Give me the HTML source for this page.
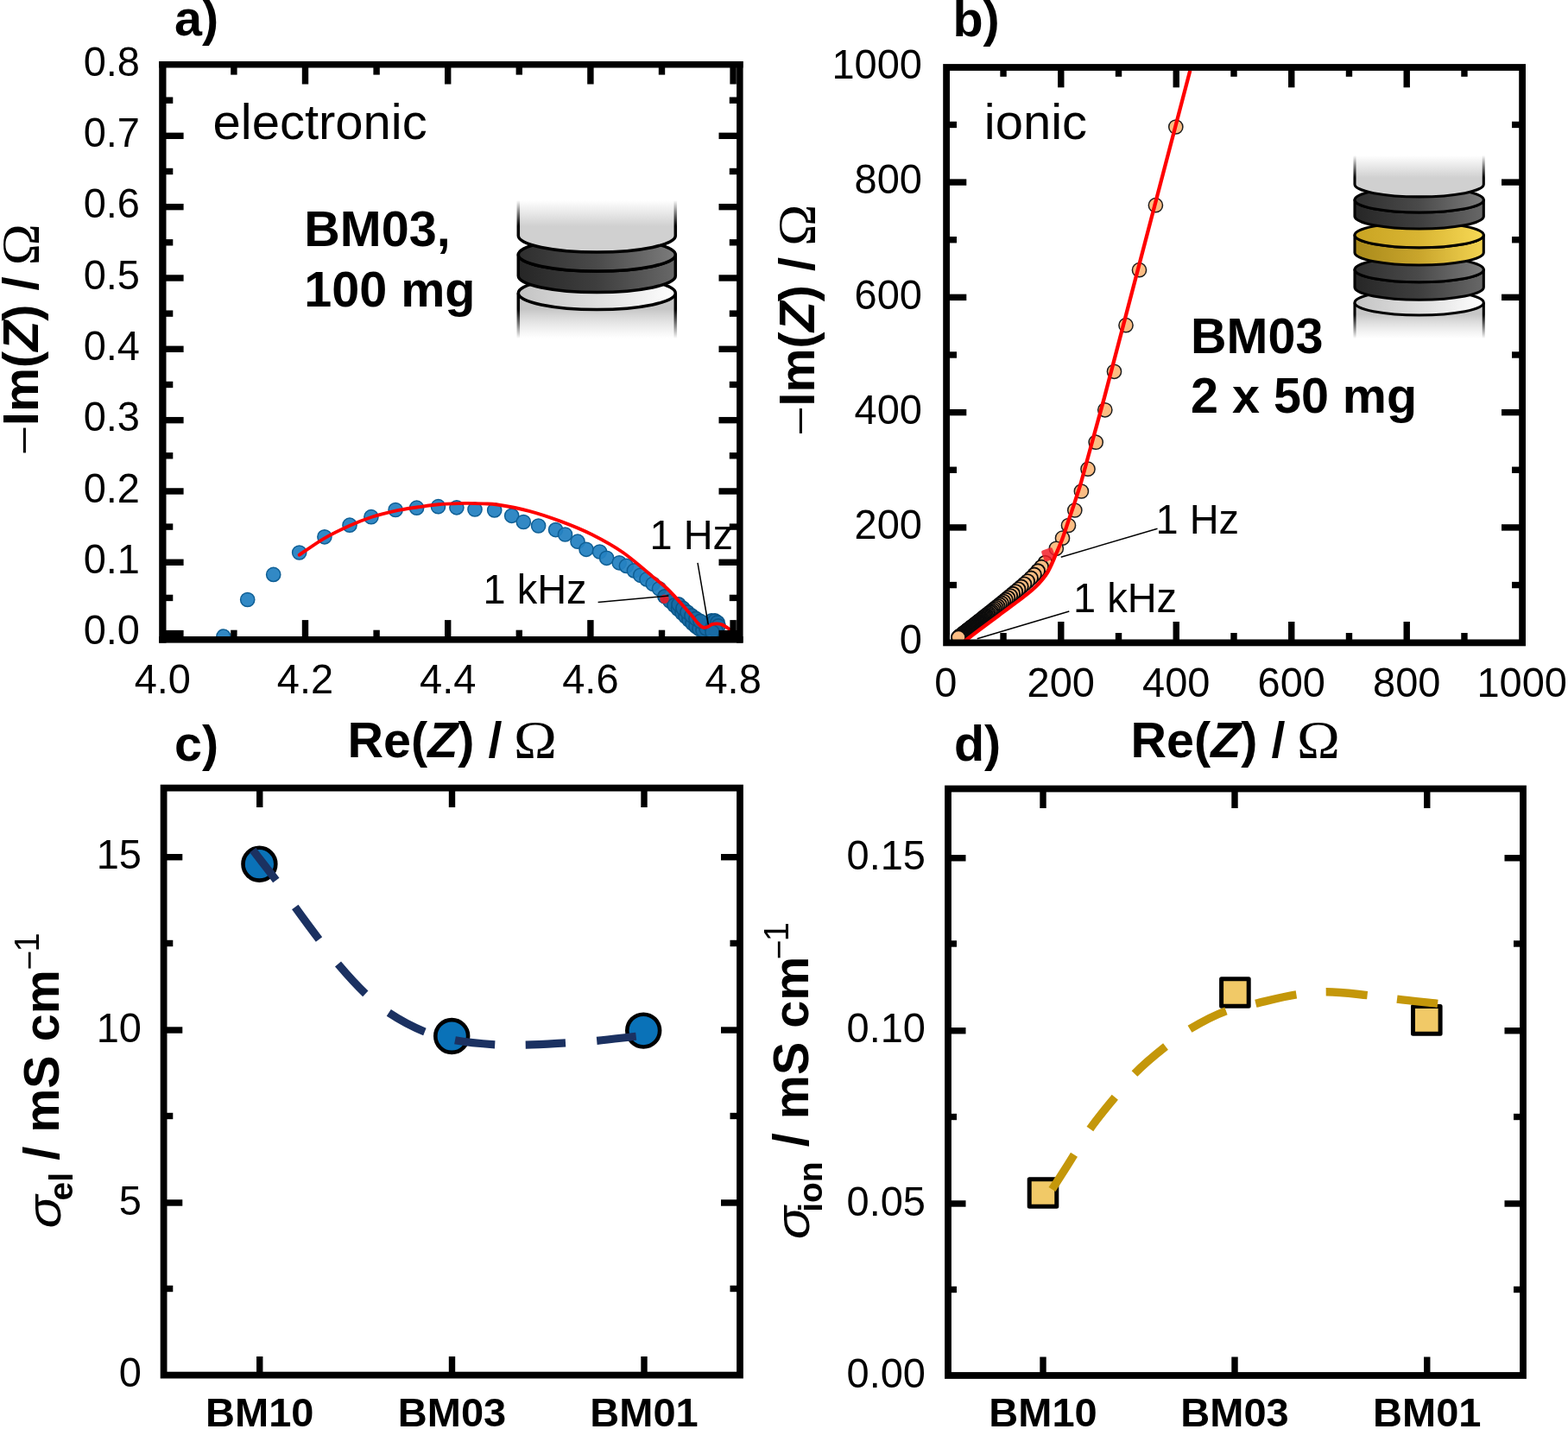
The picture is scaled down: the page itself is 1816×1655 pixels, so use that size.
<!DOCTYPE html>
<html lang="en">
<head>
<meta charset="utf-8">
<title>Impedance spectra and conductivities of BM10, BM03 and BM01</title>
<style>
html,body{margin:0;padding:0;background:#fff;}
body{width:1816px;height:1655px;overflow:hidden;}
svg{display:block;}
text{fill:#000;}
</style>
</head>
<body>
<svg width="1816" height="1655" viewBox="0 0 1816 1655" role="img" aria-label="Nyquist plots and conductivities">
<rect x="0" y="0" width="1816" height="1655" fill="#ffffff"/>
<g id="panel-a">
<defs><clipPath id="clipa"><rect x="188" y="75" width="668" height="663"/></clipPath></defs>
<g clip-path="url(#clipa)">
<g fill="#2582c1" fill-opacity="0.94" stroke="#0f5f95" stroke-width="1.5">
<circle cx="258.9" cy="737.2" r="8.1"/>
<circle cx="286.7" cy="694.5" r="8.1"/>
<circle cx="316.7" cy="665.4" r="8.1"/>
<circle cx="346.7" cy="640.0" r="8.1"/>
<circle cx="375.9" cy="621.8" r="8.1"/>
<circle cx="405.0" cy="608.2" r="8.1"/>
<circle cx="429.9" cy="598.7" r="8.1"/>
<circle cx="458.1" cy="590.5" r="8.1"/>
<circle cx="482.6" cy="588.2" r="8.1"/>
<circle cx="507.5" cy="586.7" r="8.1"/>
<circle cx="528.9" cy="587.8" r="8.1"/>
<circle cx="550.0" cy="590.0" r="8.1"/>
<circle cx="572.7" cy="590.9" r="8.1"/>
<circle cx="592.7" cy="597.3" r="8.1"/>
<circle cx="606.3" cy="604.5" r="8.1"/>
<circle cx="623.6" cy="609.0" r="8.1"/>
<circle cx="643.6" cy="613.6" r="8.1"/>
<circle cx="654.5" cy="619.0" r="8.1"/>
<circle cx="669.0" cy="627.2" r="8.1"/>
<circle cx="679.0" cy="636.3" r="8.1"/>
<circle cx="694.5" cy="639.0" r="8.1"/>
<circle cx="702.6" cy="646.3" r="8.1"/>
<circle cx="717.2" cy="651.8" r="8.1"/>
<circle cx="725.4" cy="655.4" r="8.1"/>
<circle cx="734.4" cy="660.9" r="8.1"/>
<circle cx="741.7" cy="666.3" r="8.1"/>
<circle cx="749.0" cy="670.9" r="8.1"/>
<circle cx="756.2" cy="676.3" r="8.1"/>
<circle cx="763.5" cy="681.8" r="8.1"/>
</g>
<g fill="#186ba6" fill-opacity="0.94" stroke="#0b5688" stroke-width="1.6">
<circle cx="769.9" cy="690.8" r="8.1"/>
<circle cx="776.2" cy="696.3" r="8.1"/>
<circle cx="781.0" cy="701.0" r="8.1"/>
<circle cx="785.5" cy="705.5" r="8.1"/>
<circle cx="790.0" cy="710.0" r="8.1"/>
<circle cx="794.0" cy="714.0" r="8.1"/>
<circle cx="798.0" cy="718.0" r="8.1"/>
<circle cx="802.0" cy="722.0" r="8.1"/>
<circle cx="806.0" cy="725.5" r="8.1"/>
<circle cx="810.0" cy="728.5" r="8.1"/>
<circle cx="814.0" cy="730.0" r="8.1"/>
<circle cx="818.0" cy="728.0" r="8.1"/>
<circle cx="821.0" cy="723.0" r="8.1"/>
<circle cx="824.0" cy="719.0" r="8.1"/>
<circle cx="828.0" cy="719.0" r="8.1"/>
<circle cx="831.0" cy="721.0" r="8.1"/>
<circle cx="832.0" cy="725.0" r="8.1"/>
<circle cx="829.0" cy="730.0" r="8.1"/>
<circle cx="825.0" cy="732.0" r="8.1"/>
<circle cx="786.0" cy="700.0" r="8.1"/>
<circle cx="791.0" cy="704.5" r="8.1"/>
<circle cx="796.0" cy="709.0" r="8.1"/>
<circle cx="801.0" cy="713.0" r="8.1"/>
<circle cx="806.0" cy="716.5" r="8.1"/>
<circle cx="811.0" cy="719.5" r="8.1"/>
</g>
<circle cx="769.5" cy="693.8" r="5.2" fill="#ee1c25" fill-opacity="0.9"/>
<path d="M346.7 642.7 C351.5 639.5,365.8 629.2,375.4 623.6 C385.0 618.0,395.4 613.1,404.5 609.0 C413.6 604.9,421.2 601.9,430.0 599.0 C438.8 596.1,447.9 593.8,457.0 591.8 C466.1 589.8,475.3 588.6,484.4 587.3 C493.5 586.0,502.6 584.6,511.7 583.9 C520.8 583.2,531.0 583.0,539.0 582.9 C547.0 582.8,553.8 583.1,560.0 583.4 C566.2 583.7,567.5 583.1,576.3 584.5 C585.1 585.9,600.6 588.6,612.7 591.8 C624.8 595.0,636.9 599.1,649.0 603.6 C661.1 608.1,673.3 612.9,685.4 619.0 C697.5 625.1,709.6 631.6,721.7 640.0 C733.8 648.4,749.5 662.5,758.0 669.5 C766.5 676.5,768.0 677.2,773.0 682.0 C778.0 686.8,783.7 693.2,788.2 698.2 C792.8 703.2,796.9 708.1,800.3 712.1 C803.7 716.1,806.6 720.0,808.8 722.4 C811.0 724.8,812.0 725.7,813.6 726.4 C815.2 727.1,816.7 726.9,818.5 726.4 C820.3 725.9,822.5 723.9,824.5 723.2 C826.5 722.5,828.6 722.3,830.6 722.4 C832.6 722.5,834.3 722.6,836.6 723.6 C838.9 724.6,843.2 727.7,844.5 728.5" fill="none" stroke="#ff0000" stroke-width="3.9" stroke-linecap="round" stroke-linejoin="round"/>
</g>
<line x1="692.60" y1="697.60" x2="774.40" y2="690.00" stroke="#000" stroke-width="1.5" />
<line x1="808.00" y1="651.80" x2="820.30" y2="723.50" stroke="#000" stroke-width="1.5" />
<text transform="translate(559.50,699.00) scale(1,1.035)" font-size="47" text-anchor="start" font-weight="normal" font-style="normal" font-family='"Liberation Sans", Arial, Helvetica, sans-serif' >1 kHz</text>
<text transform="translate(752.50,636.40) scale(1,1.035)" font-size="47" text-anchor="start" font-weight="normal" font-style="normal" font-family='"Liberation Sans", Arial, Helvetica, sans-serif' >1 Hz</text>
<rect x="184.20" y="71.00" width="8.30" height="673.60" fill="#000" />
<rect x="853.10" y="71.00" width="7.50" height="673.60" fill="#000" />
<rect x="184.20" y="71.00" width="676.40" height="7.50" fill="#000" />
<rect x="184.20" y="737.00" width="676.40" height="7.60" fill="#000" />
<rect x="189.00" y="729.90" width="23.60" height="7.40" fill="#000" />
<rect x="189.00" y="647.57" width="23.60" height="7.40" fill="#000" />
<rect x="189.00" y="565.25" width="23.60" height="7.40" fill="#000" />
<rect x="189.00" y="482.93" width="23.60" height="7.40" fill="#000" />
<rect x="189.00" y="400.60" width="23.60" height="7.40" fill="#000" />
<rect x="189.00" y="318.28" width="23.60" height="7.40" fill="#000" />
<rect x="189.00" y="235.95" width="23.60" height="7.40" fill="#000" />
<rect x="189.00" y="153.63" width="23.60" height="7.40" fill="#000" />
<rect x="189.00" y="688.74" width="11.30" height="7.40" fill="#000" />
<rect x="189.00" y="606.41" width="11.30" height="7.40" fill="#000" />
<rect x="189.00" y="524.09" width="11.30" height="7.40" fill="#000" />
<rect x="189.00" y="441.76" width="11.30" height="7.40" fill="#000" />
<rect x="189.00" y="359.44" width="11.30" height="7.40" fill="#000" />
<rect x="189.00" y="277.11" width="11.30" height="7.40" fill="#000" />
<rect x="189.00" y="194.79" width="11.30" height="7.40" fill="#000" />
<rect x="189.00" y="112.46" width="11.30" height="7.40" fill="#000" />
<rect x="832.50" y="729.90" width="23.50" height="7.40" fill="#000" />
<rect x="832.50" y="647.57" width="23.50" height="7.40" fill="#000" />
<rect x="832.50" y="565.25" width="23.50" height="7.40" fill="#000" />
<rect x="832.50" y="482.93" width="23.50" height="7.40" fill="#000" />
<rect x="832.50" y="400.60" width="23.50" height="7.40" fill="#000" />
<rect x="832.50" y="318.28" width="23.50" height="7.40" fill="#000" />
<rect x="832.50" y="235.95" width="23.50" height="7.40" fill="#000" />
<rect x="832.50" y="153.63" width="23.50" height="7.40" fill="#000" />
<rect x="844.80" y="688.74" width="11.20" height="7.40" fill="#000" />
<rect x="844.80" y="606.41" width="11.20" height="7.40" fill="#000" />
<rect x="844.80" y="524.09" width="11.20" height="7.40" fill="#000" />
<rect x="844.80" y="441.76" width="11.20" height="7.40" fill="#000" />
<rect x="844.80" y="359.44" width="11.20" height="7.40" fill="#000" />
<rect x="844.80" y="277.11" width="11.20" height="7.40" fill="#000" />
<rect x="844.80" y="194.79" width="11.20" height="7.40" fill="#000" />
<rect x="844.80" y="112.46" width="11.20" height="7.40" fill="#000" />
<rect x="349.80" y="75.00" width="7.40" height="22.50" fill="#000" />
<rect x="515.00" y="75.00" width="7.40" height="22.50" fill="#000" />
<rect x="680.20" y="75.00" width="7.40" height="22.50" fill="#000" />
<rect x="845.40" y="75.00" width="7.40" height="22.50" fill="#000" />
<rect x="267.20" y="75.00" width="7.40" height="11.60" fill="#000" />
<rect x="432.40" y="75.00" width="7.40" height="11.60" fill="#000" />
<rect x="597.60" y="75.00" width="7.40" height="11.60" fill="#000" />
<rect x="762.80" y="75.00" width="7.40" height="11.60" fill="#000" />
<rect x="349.80" y="718.10" width="7.40" height="22.90" fill="#000" />
<rect x="515.00" y="718.10" width="7.40" height="22.90" fill="#000" />
<rect x="680.20" y="718.10" width="7.40" height="22.90" fill="#000" />
<rect x="845.40" y="718.10" width="7.40" height="22.90" fill="#000" />
<rect x="267.20" y="729.70" width="7.40" height="11.30" fill="#000" />
<rect x="432.40" y="729.70" width="7.40" height="11.30" fill="#000" />
<rect x="597.60" y="729.70" width="7.40" height="11.30" fill="#000" />
<rect x="762.80" y="729.70" width="7.40" height="11.30" fill="#000" />
<text transform="translate(162.00,746.30) scale(1,1.035)" font-size="47" text-anchor="end" font-weight="normal" font-style="normal" font-family='"Liberation Sans", Arial, Helvetica, sans-serif' >0.0</text>
<text transform="translate(162.00,663.98) scale(1,1.035)" font-size="47" text-anchor="end" font-weight="normal" font-style="normal" font-family='"Liberation Sans", Arial, Helvetica, sans-serif' >0.1</text>
<text transform="translate(162.00,581.65) scale(1,1.035)" font-size="47" text-anchor="end" font-weight="normal" font-style="normal" font-family='"Liberation Sans", Arial, Helvetica, sans-serif' >0.2</text>
<text transform="translate(162.00,499.32) scale(1,1.035)" font-size="47" text-anchor="end" font-weight="normal" font-style="normal" font-family='"Liberation Sans", Arial, Helvetica, sans-serif' >0.3</text>
<text transform="translate(162.00,417.00) scale(1,1.035)" font-size="47" text-anchor="end" font-weight="normal" font-style="normal" font-family='"Liberation Sans", Arial, Helvetica, sans-serif' >0.4</text>
<text transform="translate(162.00,334.68) scale(1,1.035)" font-size="47" text-anchor="end" font-weight="normal" font-style="normal" font-family='"Liberation Sans", Arial, Helvetica, sans-serif' >0.5</text>
<text transform="translate(162.00,252.35) scale(1,1.035)" font-size="47" text-anchor="end" font-weight="normal" font-style="normal" font-family='"Liberation Sans", Arial, Helvetica, sans-serif' >0.6</text>
<text transform="translate(162.00,170.03) scale(1,1.035)" font-size="47" text-anchor="end" font-weight="normal" font-style="normal" font-family='"Liberation Sans", Arial, Helvetica, sans-serif' >0.7</text>
<text transform="translate(162.00,87.70) scale(1,1.035)" font-size="47" text-anchor="end" font-weight="normal" font-style="normal" font-family='"Liberation Sans", Arial, Helvetica, sans-serif' >0.8</text>
<text transform="translate(188.30,803.00) scale(1,1.035)" font-size="47" text-anchor="middle" font-weight="normal" font-style="normal" font-family='"Liberation Sans", Arial, Helvetica, sans-serif' >4.0</text>
<text transform="translate(353.50,803.00) scale(1,1.035)" font-size="47" text-anchor="middle" font-weight="normal" font-style="normal" font-family='"Liberation Sans", Arial, Helvetica, sans-serif' >4.2</text>
<text transform="translate(518.70,803.00) scale(1,1.035)" font-size="47" text-anchor="middle" font-weight="normal" font-style="normal" font-family='"Liberation Sans", Arial, Helvetica, sans-serif' >4.4</text>
<text transform="translate(683.90,803.00) scale(1,1.035)" font-size="47" text-anchor="middle" font-weight="normal" font-style="normal" font-family='"Liberation Sans", Arial, Helvetica, sans-serif' >4.6</text>
<text transform="translate(849.10,803.00) scale(1,1.035)" font-size="47" text-anchor="middle" font-weight="normal" font-style="normal" font-family='"Liberation Sans", Arial, Helvetica, sans-serif' >4.8</text>
<text x="202.00" y="41.00" font-size="57.5" text-anchor="start" font-weight="bold" font-style="normal" font-family='"Liberation Sans", Arial, Helvetica, sans-serif' >a)</text>
<text x="246.50" y="160.60" font-size="58" text-anchor="start" font-weight="normal" font-style="normal" font-family='"Liberation Sans", Arial, Helvetica, sans-serif' >electronic</text>
<text x="352.30" y="285.40" font-size="57.5" text-anchor="start" font-weight="bold" font-style="normal" font-family='"Liberation Sans", Arial, Helvetica, sans-serif' >BM03,</text>
<text x="352.30" y="355.40" font-size="57.5" text-anchor="start" font-weight="bold" font-style="normal" font-family='"Liberation Sans", Arial, Helvetica, sans-serif' >100 mg</text>
<g transform="translate(402.5,877)">
<text x="0" y="0" font-size="57.5" font-weight="bold" font-style="normal" font-family='"Liberation Sans", Arial, Helvetica, sans-serif' xml:space="preserve">Re(<tspan font-style="italic">Z</tspan>) /</text>
<text transform="translate(192.5,0) scale(1.1,1)" font-size="61" font-weight="normal" font-style="normal" font-family='"Liberation Serif", "Times New Roman", serif' xml:space="preserve">Ω</text>
</g>
<g transform="translate(43.7,526.5) rotate(-90)">
<text x="-1" y="5.4" font-size="62" font-weight="normal" font-style="normal" font-family='"Liberation Serif", "Times New Roman", serif' xml:space="preserve">−</text>
<text x="33.5" y="0" font-size="57.5" font-weight="bold" font-style="normal" font-family='"Liberation Sans", Arial, Helvetica, sans-serif' xml:space="preserve">Im(<tspan font-style="italic">Z</tspan>) /</text>
<text transform="translate(219,0) scale(1.07,1)" font-size="61" font-weight="normal" font-style="normal" font-family='"Liberation Serif", "Times New Roman", serif' xml:space="preserve">Ω</text>
</g>
<defs>
<linearGradient id="adt" x1="0" y1="0" x2="1" y2="0"><stop offset="0" stop-color="#2e2e2e"/><stop offset="0.5" stop-color="#4a4a4a"/><stop offset="1" stop-color="#7c7c7c"/></linearGradient>
<linearGradient id="ads" x1="0" y1="0" x2="1" y2="0"><stop offset="0" stop-color="#262626"/><stop offset="0.5" stop-color="#3e3e3e"/><stop offset="1" stop-color="#686868"/></linearGradient>
<linearGradient id="ayt" x1="0" y1="0" x2="1" y2="0"><stop offset="0" stop-color="#c9a422"/><stop offset="0.5" stop-color="#d9b533"/><stop offset="1" stop-color="#f7d955"/></linearGradient>
<linearGradient id="ays" x1="0" y1="0" x2="1" y2="0"><stop offset="0" stop-color="#a98a1b"/><stop offset="0.5" stop-color="#c9a52c"/><stop offset="1" stop-color="#f3d451"/></linearGradient>
<linearGradient id="apt" x1="0" y1="0" x2="1" y2="0"><stop offset="0" stop-color="#c4c4c4"/><stop offset="0.6" stop-color="#e4e4e4"/><stop offset="1" stop-color="#ffffff"/></linearGradient>
<linearGradient id="aup" gradientUnits="userSpaceOnUse" x1="0" y1="232" x2="0" y2="262"><stop offset="0" stop-color="#d0d0d0" stop-opacity="0"/><stop offset="1" stop-color="#d0d0d0" stop-opacity="1"/></linearGradient>
<linearGradient id="aups" gradientUnits="userSpaceOnUse" x1="0" y1="232" x2="0" y2="262"><stop offset="0" stop-color="#000" stop-opacity="0"/><stop offset="1" stop-color="#000" stop-opacity="1"/></linearGradient>
<linearGradient id="alo" gradientUnits="userSpaceOnUse" x1="0" y1="358" x2="0" y2="392"><stop offset="0" stop-color="#c6c6c6" stop-opacity="1"/><stop offset="1" stop-color="#d8d8d8" stop-opacity="0"/></linearGradient>
<linearGradient id="alos" gradientUnits="userSpaceOnUse" x1="0" y1="358" x2="0" y2="392"><stop offset="0" stop-color="#000" stop-opacity="1"/><stop offset="1" stop-color="#000" stop-opacity="0"/></linearGradient>
</defs>
<g id="pellet-a">
<path d="M600.3 339.5 L600.3 392 L782.3 392 L782.3 339.5 Z" fill="url(#alo)"/>
<path d="M600.3 339.5 L600.3 392 M782.3 339.5 L782.3 392" fill="none" stroke="url(#alos)" stroke-width="3.5"/>
<ellipse cx="691.3" cy="339.5" rx="91.0" ry="19" fill="url(#apt)" stroke="#000" stroke-width="3.5"/>
<path d="M600.3 295 L600.3 319.5 A91.0 19 0 0 0 782.3 319.5 L782.3 295 A91.0 19 0 0 1 600.3 295 Z" fill="url(#ads)" stroke="#000" stroke-width="3.5" stroke-linejoin="round"/>
<ellipse cx="691.3" cy="295" rx="91.0" ry="19" fill="url(#adt)" stroke="#000" stroke-width="3.5"/>
<path d="M600.3 230 L600.3 273 A91.0 19 0 0 0 782.3 273 L782.3 230 Z" fill="url(#aup)"/>
<path d="M600.3 230 L600.3 273 A91.0 19 0 0 0 782.3 273 L782.3 230" fill="none" stroke="url(#aups)" stroke-width="3.5"/>
</g>
</g>
<g id="panel-b">
<defs><clipPath id="clipb"><rect x="1096" y="78" width="667" height="663.2"/></clipPath></defs>
<g clip-path="url(#clipb)">
<g fill="#fbbd84" stroke="#1c1c1c" stroke-width="1.5">
<circle cx="1361.8" cy="147.0" r="8.1"/>
<circle cx="1338.4" cy="237.7" r="8.1"/>
<circle cx="1319.5" cy="312.7" r="8.1"/>
<circle cx="1304.0" cy="376.7" r="8.1"/>
<circle cx="1290.5" cy="430.3" r="8.1"/>
<circle cx="1279.8" cy="474.8" r="8.1"/>
<circle cx="1269.2" cy="512.2" r="8.1"/>
<circle cx="1260.0" cy="543.2" r="8.1"/>
<circle cx="1252.4" cy="569.0" r="8.1"/>
<circle cx="1244.8" cy="591.0" r="8.1"/>
<circle cx="1237.5" cy="608.5" r="8.1"/>
<circle cx="1230.5" cy="623.2" r="8.1"/>
<circle cx="1223.3" cy="635.3" r="8.1"/>
</g>
<g fill="#fbbd84" stroke="#0c0c0c" stroke-width="1.9">
<circle cx="1210.5" cy="651.6" r="8"/>
<circle cx="1206.2" cy="656.6" r="8"/>
<circle cx="1202.0" cy="661.2" r="8"/>
<circle cx="1197.9" cy="665.5" r="8"/>
<circle cx="1194.0" cy="669.5" r="8"/>
<circle cx="1190.1" cy="673.1" r="8"/>
<circle cx="1186.4" cy="676.4" r="8"/>
<circle cx="1182.8" cy="679.5" r="8"/>
<circle cx="1179.5" cy="682.4" r="8"/>
<circle cx="1176.2" cy="685.1" r="8"/>
<circle cx="1173.1" cy="687.7" r="8"/>
<circle cx="1170.2" cy="690.1" r="8"/>
<circle cx="1167.4" cy="692.4" r="8"/>
<circle cx="1164.8" cy="694.5" r="8"/>
<circle cx="1162.3" cy="696.6" r="8"/>
<circle cx="1160.0" cy="698.5" r="8"/>
<circle cx="1157.8" cy="700.3" r="8"/>
<circle cx="1155.6" cy="702.0" r="8"/>
<circle cx="1153.6" cy="703.6" r="8"/>
<circle cx="1151.7" cy="705.1" r="8"/>
<circle cx="1150.0" cy="706.6" r="8"/>
<circle cx="1148.3" cy="708.0" r="8"/>
<circle cx="1146.7" cy="709.2" r="8"/>
<circle cx="1145.1" cy="710.5" r="8"/>
<circle cx="1143.7" cy="711.6" r="8"/>
<circle cx="1142.3" cy="712.7" r="8"/>
<circle cx="1141.1" cy="713.7" r="8"/>
<circle cx="1139.9" cy="714.7" r="8"/>
<circle cx="1138.7" cy="715.6" r="8"/>
<circle cx="1137.6" cy="716.5" r="8"/>
<circle cx="1136.6" cy="717.3" r="8"/>
<circle cx="1135.6" cy="718.1" r="8"/>
<circle cx="1134.7" cy="718.9" r="8"/>
<circle cx="1133.8" cy="719.6" r="8"/>
<circle cx="1133.0" cy="720.2" r="8"/>
<circle cx="1132.2" cy="720.8" r="8"/>
<circle cx="1131.5" cy="721.4" r="8"/>
<circle cx="1130.8" cy="722.0" r="8"/>
<circle cx="1130.1" cy="722.5" r="8"/>
<circle cx="1129.5" cy="723.0" r="8"/>
<circle cx="1128.9" cy="723.5" r="8"/>
<circle cx="1128.3" cy="723.9" r="8"/>
<circle cx="1127.8" cy="724.4" r="8"/>
<circle cx="1127.3" cy="724.8" r="8"/>
<circle cx="1126.8" cy="725.1" r="8"/>
<circle cx="1126.4" cy="725.5" r="8"/>
<circle cx="1126.0" cy="725.8" r="8"/>
<circle cx="1125.6" cy="726.2" r="8"/>
<circle cx="1125.2" cy="726.5" r="8"/>
<circle cx="1124.8" cy="726.7" r="8"/>
<circle cx="1124.5" cy="727.0" r="8"/>
<circle cx="1124.1" cy="727.3" r="8"/>
<circle cx="1123.8" cy="727.6" r="8"/>
<circle cx="1123.4" cy="727.8" r="8"/>
<circle cx="1123.0" cy="728.1" r="8"/>
<circle cx="1122.7" cy="728.4" r="8"/>
<circle cx="1122.3" cy="728.7" r="8"/>
<circle cx="1122.0" cy="729.0" r="8"/>
<circle cx="1121.6" cy="729.2" r="8"/>
<circle cx="1121.3" cy="729.5" r="8"/>
<circle cx="1120.9" cy="729.8" r="8"/>
<circle cx="1120.6" cy="730.1" r="8"/>
<circle cx="1120.2" cy="730.3" r="8"/>
<circle cx="1119.8" cy="730.6" r="8"/>
<circle cx="1119.5" cy="730.9" r="8"/>
<circle cx="1119.1" cy="731.2" r="8"/>
<circle cx="1118.8" cy="731.4" r="8"/>
<circle cx="1118.4" cy="731.7" r="8"/>
<circle cx="1118.1" cy="732.0" r="8"/>
<circle cx="1117.7" cy="732.3" r="8"/>
<circle cx="1117.4" cy="732.5" r="8"/>
<circle cx="1117.0" cy="732.8" r="8"/>
<circle cx="1116.6" cy="733.1" r="8"/>
<circle cx="1116.3" cy="733.4" r="8"/>
<circle cx="1115.9" cy="733.7" r="8"/>
<circle cx="1115.6" cy="733.9" r="8"/>
<circle cx="1115.2" cy="734.2" r="8"/>
<circle cx="1114.9" cy="734.5" r="8"/>
<circle cx="1114.5" cy="734.8" r="8"/>
<circle cx="1114.2" cy="735.0" r="8"/>
<circle cx="1113.8" cy="735.3" r="8"/>
<circle cx="1113.5" cy="735.6" r="8"/>
<circle cx="1113.1" cy="735.9" r="8"/>
<circle cx="1112.7" cy="736.1" r="8"/>
<circle cx="1112.4" cy="736.4" r="8"/>
<circle cx="1112.0" cy="736.7" r="8"/>
<circle cx="1111.7" cy="737.0" r="8"/>
<circle cx="1111.3" cy="737.2" r="8"/>
<circle cx="1111.0" cy="737.5" r="8"/>
<circle cx="1110.6" cy="737.8" r="8"/>
<circle cx="1110.3" cy="738.1" r="8"/>
<circle cx="1110.1" cy="738.2" r="8"/>
</g>
<rect x="1207.5" y="635.5" width="13.5" height="13.5" rx="2" fill="#f2202a" fill-opacity="0.85" transform="rotate(-20 1214.5 642.3)"/>
<path d="M1117.5 742.5 C1120.0 740.5,1127.7 734.5,1132.6 730.8 C1137.5 727.1,1142.2 723.7,1146.7 720.3 C1151.2 716.9,1155.5 713.7,1159.9 710.4 C1164.3 707.1,1168.7 703.9,1173.1 700.6 C1177.5 697.3,1181.9 694.1,1186.3 690.6 C1190.7 687.1,1195.1 684.1,1199.5 679.6 C1203.9 675.1,1209.0 669.6,1212.8 663.5 C1216.6 657.4,1219.5 649.8,1222.4 643.2 C1225.3 636.6,1227.9 630.7,1230.4 624.0 C1232.9 617.3,1235.3 609.4,1237.5 603.0 C1239.7 596.6,1241.1 592.6,1243.5 585.4 C1245.9 578.2,1250.3 564.2,1251.7 560.0 L1279.1 460.1 L1378.3 81.8" fill="none" stroke="#ff0000" stroke-width="4.3" stroke-linecap="butt" stroke-linejoin="round"/>
</g>
<line x1="1228.75" y1="645.25" x2="1340.50" y2="612.25" stroke="#000" stroke-width="1.5" />
<line x1="1131.70" y1="739.70" x2="1238.30" y2="708.00" stroke="#000" stroke-width="1.5" />
<text transform="translate(1338.50,617.50) scale(1,1.035)" font-size="47" text-anchor="start" font-weight="normal" font-style="normal" font-family='"Liberation Sans", Arial, Helvetica, sans-serif' >1 Hz</text>
<text transform="translate(1243.00,709.00) scale(1,1.035)" font-size="47" text-anchor="start" font-weight="normal" font-style="normal" font-family='"Liberation Sans", Arial, Helvetica, sans-serif' >1 kHz</text>
<rect x="1096.10" y="78.00" width="667.00" height="666.40" fill="none" stroke="#000" stroke-width="7.8"/>
<rect x="1097.00" y="607.22" width="22.30" height="7.40" fill="#000" />
<rect x="1097.00" y="473.94" width="22.30" height="7.40" fill="#000" />
<rect x="1097.00" y="340.66" width="22.30" height="7.40" fill="#000" />
<rect x="1097.00" y="207.38" width="22.30" height="7.40" fill="#000" />
<rect x="1097.00" y="673.86" width="11.00" height="7.40" fill="#000" />
<rect x="1097.00" y="540.58" width="11.00" height="7.40" fill="#000" />
<rect x="1097.00" y="407.30" width="11.00" height="7.40" fill="#000" />
<rect x="1097.00" y="274.02" width="11.00" height="7.40" fill="#000" />
<rect x="1097.00" y="140.74" width="11.00" height="7.40" fill="#000" />
<rect x="1739.00" y="607.22" width="24.00" height="7.40" fill="#000" />
<rect x="1739.00" y="473.94" width="24.00" height="7.40" fill="#000" />
<rect x="1739.00" y="340.66" width="24.00" height="7.40" fill="#000" />
<rect x="1739.00" y="207.38" width="24.00" height="7.40" fill="#000" />
<rect x="1751.00" y="673.86" width="12.00" height="7.40" fill="#000" />
<rect x="1751.00" y="540.58" width="12.00" height="7.40" fill="#000" />
<rect x="1751.00" y="407.30" width="12.00" height="7.40" fill="#000" />
<rect x="1751.00" y="274.02" width="12.00" height="7.40" fill="#000" />
<rect x="1751.00" y="140.74" width="12.00" height="7.40" fill="#000" />
<rect x="1225.08" y="78.00" width="7.40" height="23.30" fill="#000" />
<rect x="1358.56" y="78.00" width="7.40" height="23.30" fill="#000" />
<rect x="1492.04" y="78.00" width="7.40" height="23.30" fill="#000" />
<rect x="1625.52" y="78.00" width="7.40" height="23.30" fill="#000" />
<rect x="1158.34" y="78.00" width="7.40" height="10.80" fill="#000" />
<rect x="1291.82" y="78.00" width="7.40" height="10.80" fill="#000" />
<rect x="1425.30" y="78.00" width="7.40" height="10.80" fill="#000" />
<rect x="1558.78" y="78.00" width="7.40" height="10.80" fill="#000" />
<rect x="1692.26" y="78.00" width="7.40" height="10.80" fill="#000" />
<rect x="1225.08" y="720.00" width="7.40" height="24.00" fill="#000" />
<rect x="1358.56" y="720.00" width="7.40" height="24.00" fill="#000" />
<rect x="1492.04" y="720.00" width="7.40" height="24.00" fill="#000" />
<rect x="1625.52" y="720.00" width="7.40" height="24.00" fill="#000" />
<rect x="1158.34" y="733.00" width="7.40" height="11.00" fill="#000" />
<rect x="1291.82" y="733.00" width="7.40" height="11.00" fill="#000" />
<rect x="1425.30" y="733.00" width="7.40" height="11.00" fill="#000" />
<rect x="1558.78" y="733.00" width="7.40" height="11.00" fill="#000" />
<rect x="1692.26" y="733.00" width="7.40" height="11.00" fill="#000" />
<text transform="translate(1068.00,757.40) scale(1,1.035)" font-size="47" text-anchor="end" font-weight="normal" font-style="normal" font-family='"Liberation Sans", Arial, Helvetica, sans-serif' >0</text>
<text transform="translate(1068.00,624.12) scale(1,1.035)" font-size="47" text-anchor="end" font-weight="normal" font-style="normal" font-family='"Liberation Sans", Arial, Helvetica, sans-serif' >200</text>
<text transform="translate(1068.00,490.84) scale(1,1.035)" font-size="47" text-anchor="end" font-weight="normal" font-style="normal" font-family='"Liberation Sans", Arial, Helvetica, sans-serif' >400</text>
<text transform="translate(1068.00,357.56) scale(1,1.035)" font-size="47" text-anchor="end" font-weight="normal" font-style="normal" font-family='"Liberation Sans", Arial, Helvetica, sans-serif' >600</text>
<text transform="translate(1068.00,224.28) scale(1,1.035)" font-size="47" text-anchor="end" font-weight="normal" font-style="normal" font-family='"Liberation Sans", Arial, Helvetica, sans-serif' >800</text>
<text transform="translate(1068.00,91.00) scale(1,1.035)" font-size="47" text-anchor="end" font-weight="normal" font-style="normal" font-family='"Liberation Sans", Arial, Helvetica, sans-serif' >1000</text>
<text transform="translate(1095.30,806.80) scale(1,1.035)" font-size="47" text-anchor="middle" font-weight="normal" font-style="normal" font-family='"Liberation Sans", Arial, Helvetica, sans-serif' >0</text>
<text transform="translate(1228.78,806.80) scale(1,1.035)" font-size="47" text-anchor="middle" font-weight="normal" font-style="normal" font-family='"Liberation Sans", Arial, Helvetica, sans-serif' >200</text>
<text transform="translate(1362.26,806.80) scale(1,1.035)" font-size="47" text-anchor="middle" font-weight="normal" font-style="normal" font-family='"Liberation Sans", Arial, Helvetica, sans-serif' >400</text>
<text transform="translate(1495.74,806.80) scale(1,1.035)" font-size="47" text-anchor="middle" font-weight="normal" font-style="normal" font-family='"Liberation Sans", Arial, Helvetica, sans-serif' >600</text>
<text transform="translate(1629.22,806.80) scale(1,1.035)" font-size="47" text-anchor="middle" font-weight="normal" font-style="normal" font-family='"Liberation Sans", Arial, Helvetica, sans-serif' >800</text>
<text transform="translate(1762.70,806.80) scale(1,1.035)" font-size="47" text-anchor="middle" font-weight="normal" font-style="normal" font-family='"Liberation Sans", Arial, Helvetica, sans-serif' >1000</text>
<text x="1103.50" y="42.00" font-size="57.5" text-anchor="start" font-weight="bold" font-style="normal" font-family='"Liberation Sans", Arial, Helvetica, sans-serif' >b)</text>
<text x="1139.80" y="160.60" font-size="58" text-anchor="start" font-weight="normal" font-style="normal" font-family='"Liberation Sans", Arial, Helvetica, sans-serif' >ionic</text>
<text x="1379.00" y="409.00" font-size="57.5" text-anchor="start" font-weight="bold" font-style="normal" font-family='"Liberation Sans", Arial, Helvetica, sans-serif' >BM03</text>
<text x="1379.00" y="478.00" font-size="57.5" text-anchor="start" font-weight="bold" font-style="normal" font-family='"Liberation Sans", Arial, Helvetica, sans-serif' >2 x 50 mg</text>
<g transform="translate(1309.5,877)">
<text x="0" y="0" font-size="57.5" font-weight="bold" font-style="normal" font-family='"Liberation Sans", Arial, Helvetica, sans-serif' xml:space="preserve">Re(<tspan font-style="italic">Z</tspan>) /</text>
<text transform="translate(192.5,0) scale(1.1,1)" font-size="61" font-weight="normal" font-style="normal" font-family='"Liberation Serif", "Times New Roman", serif' xml:space="preserve">Ω</text>
</g>
<g transform="translate(943,504) rotate(-90)">
<text x="-1" y="5.4" font-size="62" font-weight="normal" font-style="normal" font-family='"Liberation Serif", "Times New Roman", serif' xml:space="preserve">−</text>
<text x="33.5" y="0" font-size="57.5" font-weight="bold" font-style="normal" font-family='"Liberation Sans", Arial, Helvetica, sans-serif' xml:space="preserve">Im(<tspan font-style="italic">Z</tspan>) /</text>
<text transform="translate(219,0) scale(1.07,1)" font-size="61" font-weight="normal" font-style="normal" font-family='"Liberation Serif", "Times New Roman", serif' xml:space="preserve">Ω</text>
</g>
<defs>
<linearGradient id="bdt" x1="0" y1="0" x2="1" y2="0"><stop offset="0" stop-color="#2e2e2e"/><stop offset="0.5" stop-color="#4a4a4a"/><stop offset="1" stop-color="#7c7c7c"/></linearGradient>
<linearGradient id="bds" x1="0" y1="0" x2="1" y2="0"><stop offset="0" stop-color="#262626"/><stop offset="0.5" stop-color="#3e3e3e"/><stop offset="1" stop-color="#686868"/></linearGradient>
<linearGradient id="byt" x1="0" y1="0" x2="1" y2="0"><stop offset="0" stop-color="#c9a422"/><stop offset="0.5" stop-color="#d9b533"/><stop offset="1" stop-color="#f7d955"/></linearGradient>
<linearGradient id="bys" x1="0" y1="0" x2="1" y2="0"><stop offset="0" stop-color="#a98a1b"/><stop offset="0.5" stop-color="#c9a52c"/><stop offset="1" stop-color="#f3d451"/></linearGradient>
<linearGradient id="bpt" x1="0" y1="0" x2="1" y2="0"><stop offset="0" stop-color="#c4c4c4"/><stop offset="0.6" stop-color="#e4e4e4"/><stop offset="1" stop-color="#ffffff"/></linearGradient>
<linearGradient id="bup" gradientUnits="userSpaceOnUse" x1="0" y1="180" x2="0" y2="206"><stop offset="0" stop-color="#d0d0d0" stop-opacity="0"/><stop offset="1" stop-color="#d0d0d0" stop-opacity="1"/></linearGradient>
<linearGradient id="bups" gradientUnits="userSpaceOnUse" x1="0" y1="180" x2="0" y2="206"><stop offset="0" stop-color="#000" stop-opacity="0"/><stop offset="1" stop-color="#000" stop-opacity="1"/></linearGradient>
<linearGradient id="blo" gradientUnits="userSpaceOnUse" x1="0" y1="364" x2="0" y2="392"><stop offset="0" stop-color="#c6c6c6" stop-opacity="1"/><stop offset="1" stop-color="#d8d8d8" stop-opacity="0"/></linearGradient>
<linearGradient id="blos" gradientUnits="userSpaceOnUse" x1="0" y1="364" x2="0" y2="392"><stop offset="0" stop-color="#000" stop-opacity="1"/><stop offset="1" stop-color="#000" stop-opacity="0"/></linearGradient>
</defs>
<g id="pellet-b">
<path d="M1569 350.5 L1569 392 L1718.3 392 L1718.3 350.5 Z" fill="url(#blo)"/>
<path d="M1569 350.5 L1569 392 M1718.3 350.5 L1718.3 392" fill="none" stroke="url(#blos)" stroke-width="3.1"/>
<ellipse cx="1643.65" cy="350.5" rx="74.64999999999998" ry="14.5" fill="url(#bpt)" stroke="#000" stroke-width="3.1"/>
<path d="M1569 312.3 L1569 332.8 A74.64999999999998 14.5 0 0 0 1718.3 332.8 L1718.3 312.3 A74.64999999999998 14.5 0 0 1 1569 312.3 Z" fill="url(#bds)" stroke="#000" stroke-width="3.1" stroke-linejoin="round"/>
<ellipse cx="1643.65" cy="312.3" rx="74.64999999999998" ry="14.5" fill="url(#bdt)" stroke="#000" stroke-width="3.1"/>
<path d="M1569 272.3 L1569 292.5 A74.64999999999998 14.5 0 0 0 1718.3 292.5 L1718.3 272.3 A74.64999999999998 14.5 0 0 1 1569 272.3 Z" fill="url(#bys)" stroke="#000" stroke-width="3.1" stroke-linejoin="round"/>
<ellipse cx="1643.65" cy="272.3" rx="74.64999999999998" ry="14.5" fill="url(#byt)" stroke="#000" stroke-width="3.1"/>
<path d="M1569 231.5 L1569 250.5 A74.64999999999998 14.5 0 0 0 1718.3 250.5 L1718.3 231.5 A74.64999999999998 14.5 0 0 1 1569 231.5 Z" fill="url(#bds)" stroke="#000" stroke-width="3.1" stroke-linejoin="round"/>
<ellipse cx="1643.65" cy="231.5" rx="74.64999999999998" ry="14.5" fill="url(#bdt)" stroke="#000" stroke-width="3.1"/>
<path d="M1569 178 L1569 213.4 A74.64999999999998 14.5 0 0 0 1718.3 213.4 L1718.3 178 Z" fill="url(#bup)"/>
<path d="M1569 178 L1569 213.4 A74.64999999999998 14.5 0 0 0 1718.3 213.4 L1718.3 178" fill="none" stroke="url(#bups)" stroke-width="3.1"/>
</g>
</g>
<g id="panel-c">
<g fill="#0a72b8" stroke="#000" stroke-width="4.6">
<circle cx="300.4" cy="1000.7" r="18.9"/>
<circle cx="523.2" cy="1200" r="18.9"/>
<circle cx="745.2" cy="1193.6" r="18.9"/>
</g>
<path d="M292.8 984.5C301.8 996.2,311.0 1007.7,319.8 1019.5M341.8 1050.5C350.9 1063.1,360.1 1075.6,369.5 1088.0M391.5 1116.6C401.6 1128.5,411.9 1140.2,423.3 1150.9M450.3 1172.9C463.4 1181.6,477.3 1189.1,491.9 1194.9M527.0 1204.8C542.2 1207.7,557.7 1208.9,573.2 1209.8M608.7 1210.2C624.1 1209.9,639.6 1208.8,655.0 1207.9M691.2 1205.3C706.4 1203.9,721.5 1201.9,736.7 1200.2" fill="none" stroke="#1b3161" stroke-width="9.2" stroke-linecap="butt"/>
<rect x="189.60" y="912.60" width="667.40" height="680.00" fill="none" stroke="#000" stroke-width="7.8"/>
<rect x="190.00" y="1389.30" width="21.30" height="7.40" fill="#000" />
<rect x="190.00" y="1189.30" width="21.30" height="7.40" fill="#000" />
<rect x="190.00" y="989.00" width="21.30" height="7.40" fill="#000" />
<rect x="190.00" y="1488.80" width="10.30" height="7.40" fill="#000" />
<rect x="190.00" y="1288.80" width="10.30" height="7.40" fill="#000" />
<rect x="190.00" y="1088.80" width="10.30" height="7.40" fill="#000" />
<rect x="835.00" y="1389.30" width="21.00" height="7.40" fill="#000" />
<rect x="835.00" y="1189.30" width="21.00" height="7.40" fill="#000" />
<rect x="835.00" y="989.00" width="21.00" height="7.40" fill="#000" />
<rect x="845.50" y="1488.80" width="10.50" height="7.40" fill="#000" />
<rect x="845.50" y="1288.80" width="10.50" height="7.40" fill="#000" />
<rect x="845.50" y="1088.80" width="10.50" height="7.40" fill="#000" />
<rect x="297.05" y="912.00" width="7.40" height="23.00" fill="#000" />
<rect x="519.80" y="912.00" width="7.40" height="23.00" fill="#000" />
<rect x="742.30" y="912.00" width="7.40" height="23.00" fill="#000" />
<rect x="297.05" y="1571.00" width="7.40" height="21.00" fill="#000" />
<rect x="519.80" y="1571.00" width="7.40" height="21.00" fill="#000" />
<rect x="742.30" y="1571.00" width="7.40" height="21.00" fill="#000" />
<text transform="translate(164.00,1605.95) scale(1,1.035)" font-size="47" text-anchor="end" font-weight="normal" font-style="normal" font-family='"Liberation Sans", Arial, Helvetica, sans-serif' >0</text>
<text transform="translate(164.00,1406.70) scale(1,1.035)" font-size="47" text-anchor="end" font-weight="normal" font-style="normal" font-family='"Liberation Sans", Arial, Helvetica, sans-serif' >5</text>
<text transform="translate(164.00,1206.70) scale(1,1.035)" font-size="47" text-anchor="end" font-weight="normal" font-style="normal" font-family='"Liberation Sans", Arial, Helvetica, sans-serif' >10</text>
<text transform="translate(164.00,1006.40) scale(1,1.035)" font-size="47" text-anchor="end" font-weight="normal" font-style="normal" font-family='"Liberation Sans", Arial, Helvetica, sans-serif' >15</text>
<text x="300.75" y="1652.00" font-size="47" text-anchor="middle" font-weight="bold" font-style="normal" font-family='"Liberation Sans", Arial, Helvetica, sans-serif' >BM10</text>
<text x="523.50" y="1652.00" font-size="47" text-anchor="middle" font-weight="bold" font-style="normal" font-family='"Liberation Sans", Arial, Helvetica, sans-serif' >BM03</text>
<text x="746.00" y="1652.00" font-size="47" text-anchor="middle" font-weight="bold" font-style="normal" font-family='"Liberation Sans", Arial, Helvetica, sans-serif' >BM01</text>
<text x="202.00" y="881.00" font-size="57.5" text-anchor="start" font-weight="bold" font-style="normal" font-family='"Liberation Sans", Arial, Helvetica, sans-serif' >c)</text>
<g transform="translate(68,1420.4) rotate(-90)">
<text transform="translate(-2,1.5) scale(1.15,1)" font-size="55" font-weight="normal" font-style="italic" font-family='"Liberation Sans", Arial, Helvetica, sans-serif' xml:space="preserve">σ</text>
<text x="30" y="16" font-size="39" font-weight="bold" font-style="normal" font-family='"Liberation Sans", Arial, Helvetica, sans-serif' xml:space="preserve">el</text>
<text x="76.7" y="0" font-size="57.5" font-weight="bold" font-style="normal" font-family='"Liberation Sans", Arial, Helvetica, sans-serif' xml:space="preserve">/ mS cm</text>
<text x="297" y="-21" font-size="39" font-weight="normal" font-style="normal" font-family='"Liberation Sans", Arial, Helvetica, sans-serif' xml:space="preserve">−</text>
<text x="318" y="-23" font-size="40" font-weight="normal" font-style="normal" font-family='"Liberation Sans", Arial, Helvetica, sans-serif' xml:space="preserve">1</text>
</g>
</g>
<g id="panel-d">
<rect x="1192.2" y="1365.7" width="31.6" height="31.6" fill="#f1c967" stroke="#000" stroke-width="5" stroke-linejoin="round"/>
<rect x="1414.6000000000001" y="1133.7" width="31.6" height="31.6" fill="#f1c967" stroke="#000" stroke-width="5" stroke-linejoin="round"/>
<rect x="1636.5" y="1165.6000000000001" width="31.6" height="31.6" fill="#f1c967" stroke="#000" stroke-width="5" stroke-linejoin="round"/>
<path d="M1218.5 1377.6C1227.0 1364.2,1235.6 1350.8,1244.0 1337.3M1262.4 1307.5C1271.3 1294.7,1281.5 1282.8,1291.3 1270.7M1314.0 1243.5C1325.1 1232.1,1337.5 1221.9,1350.0 1212.0M1378.0 1191.8C1391.4 1183.7,1405.3 1176.2,1420.0 1170.8M1454.3 1162.3C1470.0 1158.6,1485.5 1154.4,1501.4 1151.9M1535.7 1148.7C1551.7 1148.6,1567.7 1151.0,1583.6 1152.7M1618.0 1157.2C1633.7 1159.1,1649.4 1160.6,1665.1 1162.3" fill="none" stroke="#c4970a" stroke-width="9.4" stroke-linecap="butt"/>
<rect x="1098.00" y="913.50" width="666.00" height="679.50" fill="none" stroke="#000" stroke-width="7.8"/>
<rect x="1098.00" y="1390.30" width="20.50" height="7.40" fill="#000" />
<rect x="1098.00" y="1190.05" width="20.50" height="7.40" fill="#000" />
<rect x="1098.00" y="990.05" width="20.50" height="7.40" fill="#000" />
<rect x="1098.00" y="1489.80" width="10.00" height="7.40" fill="#000" />
<rect x="1098.00" y="1289.80" width="10.00" height="7.40" fill="#000" />
<rect x="1098.00" y="1089.30" width="10.00" height="7.40" fill="#000" />
<rect x="1742.50" y="1390.30" width="21.50" height="7.40" fill="#000" />
<rect x="1742.50" y="1190.05" width="21.50" height="7.40" fill="#000" />
<rect x="1742.50" y="990.05" width="21.50" height="7.40" fill="#000" />
<rect x="1753.00" y="1489.80" width="11.00" height="7.40" fill="#000" />
<rect x="1753.00" y="1289.80" width="11.00" height="7.40" fill="#000" />
<rect x="1753.00" y="1089.30" width="11.00" height="7.40" fill="#000" />
<rect x="1204.30" y="913.00" width="7.40" height="23.00" fill="#000" />
<rect x="1426.30" y="913.00" width="7.40" height="23.00" fill="#000" />
<rect x="1649.05" y="913.00" width="7.40" height="23.00" fill="#000" />
<rect x="1204.30" y="1571.50" width="7.40" height="21.50" fill="#000" />
<rect x="1426.30" y="1571.50" width="7.40" height="21.50" fill="#000" />
<rect x="1649.05" y="1571.50" width="7.40" height="21.50" fill="#000" />
<text transform="translate(1072.00,1606.70) scale(1,1.035)" font-size="47" text-anchor="end" font-weight="normal" font-style="normal" font-family='"Liberation Sans", Arial, Helvetica, sans-serif' >0.00</text>
<text transform="translate(1072.00,1407.70) scale(1,1.035)" font-size="47" text-anchor="end" font-weight="normal" font-style="normal" font-family='"Liberation Sans", Arial, Helvetica, sans-serif' >0.05</text>
<text transform="translate(1072.00,1207.45) scale(1,1.035)" font-size="47" text-anchor="end" font-weight="normal" font-style="normal" font-family='"Liberation Sans", Arial, Helvetica, sans-serif' >0.10</text>
<text transform="translate(1072.00,1007.45) scale(1,1.035)" font-size="47" text-anchor="end" font-weight="normal" font-style="normal" font-family='"Liberation Sans", Arial, Helvetica, sans-serif' >0.15</text>
<text x="1208.00" y="1652.00" font-size="47" text-anchor="middle" font-weight="bold" font-style="normal" font-family='"Liberation Sans", Arial, Helvetica, sans-serif' >BM10</text>
<text x="1430.00" y="1652.00" font-size="47" text-anchor="middle" font-weight="bold" font-style="normal" font-family='"Liberation Sans", Arial, Helvetica, sans-serif' >BM03</text>
<text x="1652.75" y="1652.00" font-size="47" text-anchor="middle" font-weight="bold" font-style="normal" font-family='"Liberation Sans", Arial, Helvetica, sans-serif' >BM01</text>
<text x="1105.00" y="881.00" font-size="57.5" text-anchor="start" font-weight="bold" font-style="normal" font-family='"Liberation Sans", Arial, Helvetica, sans-serif' >d)</text>
<g transform="translate(935.6,1433.2) rotate(-90)">
<text transform="translate(-2,1.5) scale(1.15,1)" font-size="55" font-weight="normal" font-style="italic" font-family='"Liberation Sans", Arial, Helvetica, sans-serif' xml:space="preserve">σ</text>
<text x="29.4" y="16" font-size="39" font-weight="bold" font-style="normal" font-family='"Liberation Sans", Arial, Helvetica, sans-serif' xml:space="preserve">ion</text>
<text x="105" y="0" font-size="57.5" font-weight="bold" font-style="normal" font-family='"Liberation Sans", Arial, Helvetica, sans-serif' xml:space="preserve">/ mS cm</text>
<text x="322" y="-21" font-size="39" font-weight="normal" font-style="normal" font-family='"Liberation Sans", Arial, Helvetica, sans-serif' xml:space="preserve">−</text>
<text x="343" y="-23" font-size="40" font-weight="normal" font-style="normal" font-family='"Liberation Sans", Arial, Helvetica, sans-serif' xml:space="preserve">1</text>
</g>
</g>
</svg>
</body>
</html>
